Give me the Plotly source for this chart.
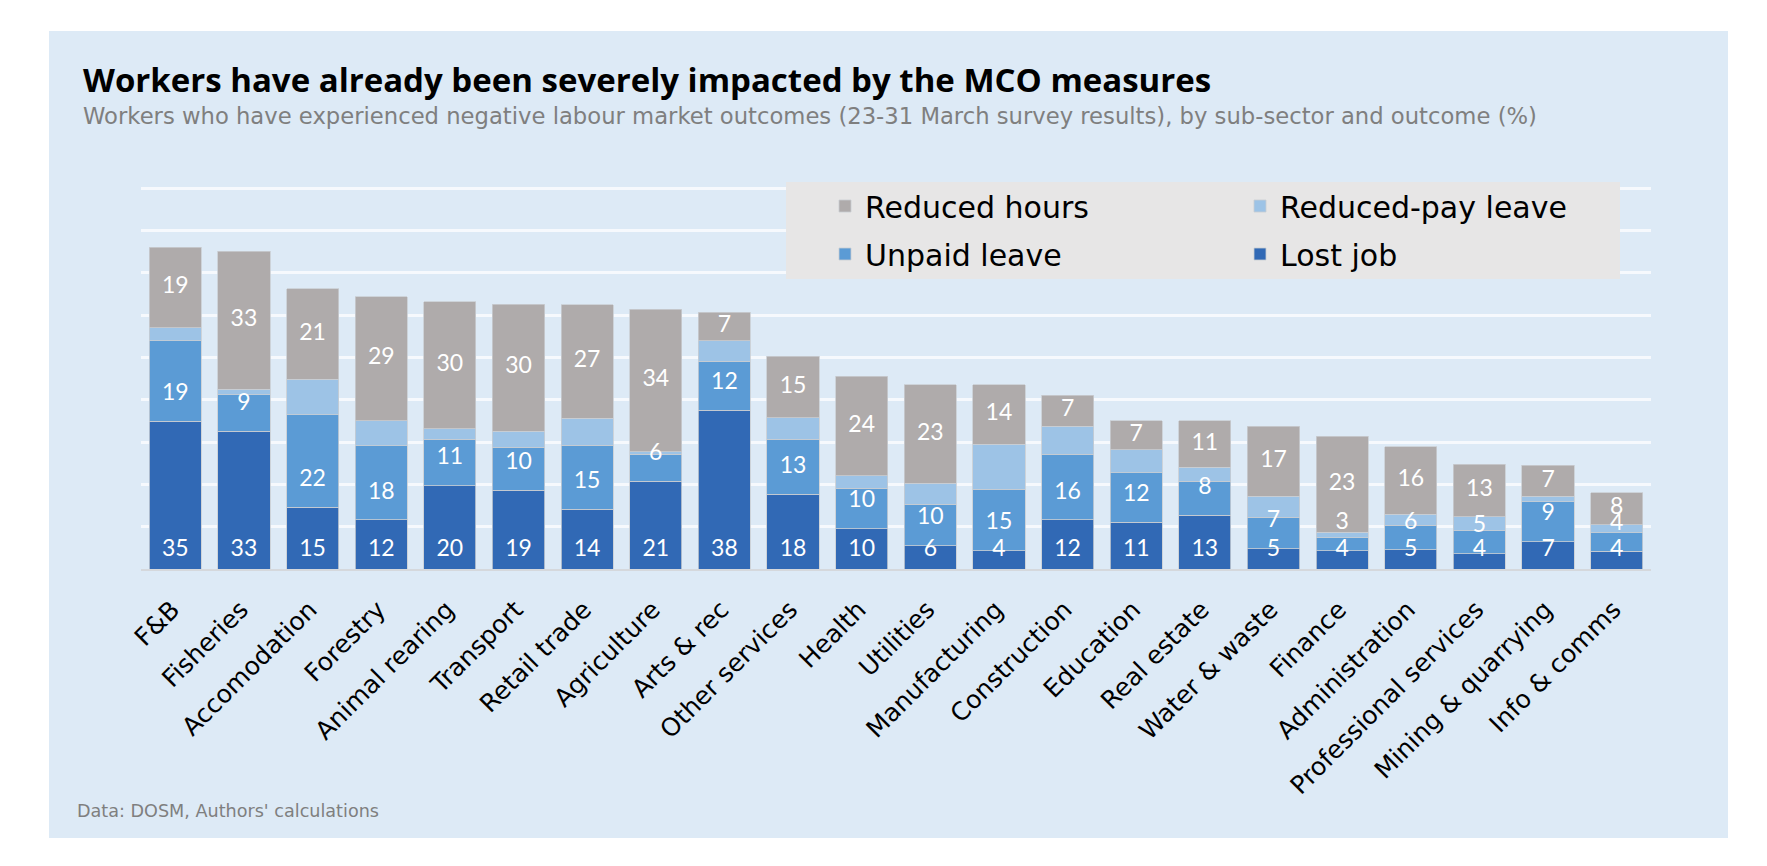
import math
import plotly.graph_objects as go

categories = ["F&B", "Fisheries", "Accomodation", "Forestry", "Animal rearing", "Transport",
              "Retail trade", "Agriculture", "Arts & rec", "Other services", "Health", "Utilities",
              "Manufacturing", "Construction", "Education", "Real estate", "Water & waste",
              "Finance", "Administration", "Professional services", "Mining & quarrying", "Info & comms"]

lost_job = [34.9, 32.6, 14.6, 11.6, 19.7, 18.6, 14.1, 20.8, 37.5, 17.7, 9.5,
            5.5, 4.3, 11.6, 11.0, 12.7, 4.8, 4.3, 4.5, 3.6, 6.5, 4.2]
unpaid_leave = [19.1, 8.6, 21.9, 17.5, 11.0, 10.2, 15.2, 6.3, 11.6, 13.0, 9.6,
                9.8, 14.6, 15.5, 11.7, 8.0, 7.4, 3.1, 5.8, 5.4, 9.4, 4.4]
reduced_pay_leave = [3.0, 1.3, 8.4, 6.0, 2.5, 3.8, 6.3, 0.6, 4.9, 5.0, 3.0,
                     5.0, 10.6, 6.7, 5.5, 3.3, 5.0, 1.3, 2.6, 3.3, 1.3, 1.9]
reduced_hours = [19.1, 32.6, 21.3, 29.3, 30.0, 30.0, 26.9, 33.7, 6.7, 14.6, 23.5,
                 23.3, 14.1, 7.3, 6.8, 11.0, 16.6, 22.7, 16.0, 12.5, 7.3, 7.5]

C_LOST = "#3169B5"
C_UNPAID = "#5B9BD5"
C_RPAY = "#9DC3E6"
C_HOURS = "#AFABAB"
PANEL = "#DDEAF6"

# layout geometry (pixels)
W, H = 1767, 866
L, R, T, B = 141, 1767 - 1651, 184, 866 - 569
PW = W - L - R
PH = H - T - B


def px_x(px):
    return (px - L) / PW


def px_y(py):
    return (H - B - py) / PH


def lab(v):
    return str(int(math.floor(v + 0.5)))


fig = go.Figure()
series = [("Lost job", lost_job, C_LOST, "legend2", 2),
          ("Unpaid leave", unpaid_leave, C_UNPAID, "legend", 2),
          ("Reduced-pay leave", reduced_pay_leave, C_RPAY, "legend2", 1),
          ("Reduced hours", reduced_hours, C_HOURS, "legend", 1)]
for name, vals, col, lg, rank in series:
    fig.add_trace(go.Bar(
        x=categories, y=vals, name=name, marker=dict(color=col, line=dict(color="#C9CDD2", width=0.8)),
        legend=lg, legendgroup=name, legendrank=rank, hoverinfo="skip"))

# data labels
cum3 = [a + b + c for a, b, c in zip(lost_job, unpaid_leave, reduced_pay_leave)]
lbl_font = dict(color="white", size=23, family="Lato")
fig.add_trace(go.Scatter(x=categories, y=[4.5] * len(categories), mode="text",
                         text=[lab(v) for v in lost_job], textfont=lbl_font,
                         showlegend=False, hoverinfo="skip", cliponaxis=False))
fig.add_trace(go.Scatter(x=categories, y=[a + 6.4 for a in lost_job], mode="text",
                         text=[lab(v) for v in unpaid_leave], textfont=lbl_font,
                         showlegend=False, hoverinfo="skip", cliponaxis=False))
fig.add_trace(go.Scatter(x=categories, y=[c + g / 2 for c, g in zip(cum3, reduced_hours)], mode="text",
                         text=[lab(v) for v in reduced_hours], textfont=lbl_font,
                         showlegend=False, hoverinfo="skip", cliponaxis=False))

legend_common = dict(orientation="v", traceorder="grouped", tracegroupgap=6,
                     bgcolor="rgba(0,0,0,0)", font=dict(family="DejaVu Sans", size=30, color="black"),
                     xanchor="left", yanchor="top", itemclick=False, itemdoubleclick=False)

fig.update_layout(
    width=W, height=H,
    margin=dict(l=L, r=R, t=T, b=B),
    barmode="stack", bargap=0.24,
    paper_bgcolor="white", plot_bgcolor=PANEL,
    showlegend=True,
    legend=dict(x=px_x(825), y=px_y(180), **legend_common),
    legend2=dict(x=px_x(1240), y=px_y(180), **legend_common),
    xaxis=dict(type="category", range=[-0.5, len(categories) - 0.5], autorange=False,
               tickangle=-45, showgrid=False, ticks="",
               ticklabelstandoff=14, ticklabelshift=-3,
               tickfont=dict(family="DejaVu Sans", size=25, color="black"),
               showline=True, linecolor="#D5D8DC", linewidth=2, zeroline=False),
    yaxis=dict(range=[0, 91], dtick=10, showticklabels=False, showgrid=True,
               gridcolor="#F6F9FD", gridwidth=3, zeroline=False, showline=False),
    shapes=[
        dict(type="rect", xref="paper", yref="paper", layer="below",
             x0=px_x(49), x1=px_x(1728), y0=px_y(838), y1=px_y(31),
             fillcolor=PANEL, line=dict(width=0)),
        dict(type="rect", xref="paper", yref="paper", layer="above",
             x0=px_x(786), x1=px_x(1620), y0=px_y(279), y1=px_y(182),
             fillcolor="#E7E6E6", line=dict(width=0)),
    ],
    annotations=[
        dict(text="<b>Workers have already been severely impacted by the MCO measures</b>",
             xref="paper", yref="paper", x=px_x(81), y=px_y(79), xanchor="left", yanchor="middle",
             showarrow=False, font=dict(family="Open Sans", size=33, color="black")),
        dict(text="Workers who have experienced negative labour market outcomes (23-31 March survey results), by sub-sector and outcome (%)",
             xref="paper", yref="paper", x=px_x(81), y=px_y(116), xanchor="left", yanchor="middle",
             showarrow=False, font=dict(family="DejaVu Sans", size=22.7, color="#7F7F7F")),
        dict(text="Data: DOSM, Authors' calculations",
             xref="paper", yref="paper", x=px_x(75), y=px_y(811), xanchor="left", yanchor="middle",
             showarrow=False, font=dict(family="DejaVu Sans", size=17.6, color="#7F7F7F")),
    ],
)

fig.write_html("out.html")
